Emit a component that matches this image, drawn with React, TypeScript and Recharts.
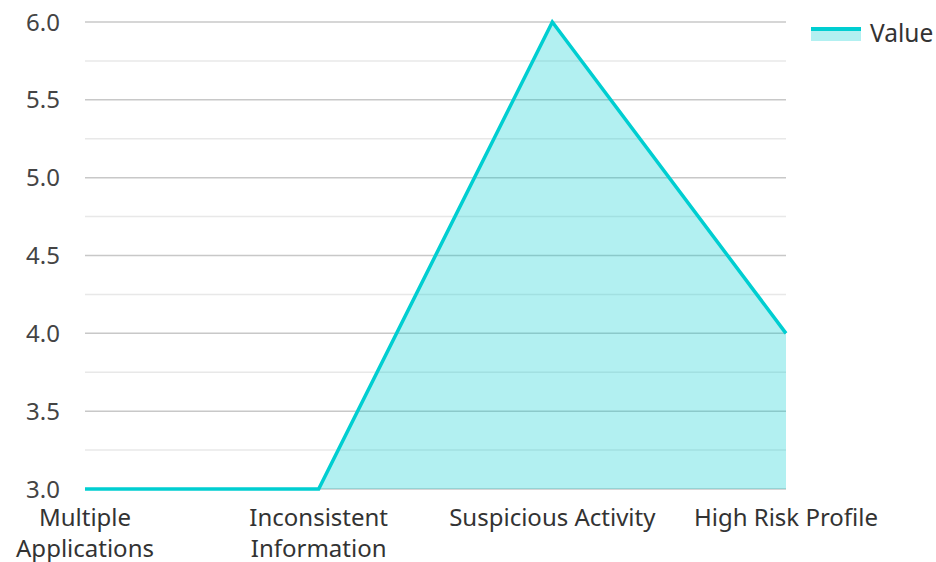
import React from 'react'
import { AreaChart, Area, XAxis, YAxis, CartesianGrid } from 'recharts'

const categories = ['Multiple Applications', 'Inconsistent Information', 'Suspicious Activity', 'High Risk Profile']
const values = [3, 3, 6, 4]
const yTicks = [3, 3.5, 4, 4.5, 5, 5.5, 6]
const yMinorTicks = [3.25, 3.75, 4.25, 4.75, 5.25, 5.75]

const data = categories.map((name, i) => ({ name, value: values[i] }))

const COLOR = '#00CED1'
const FONT = '"Noto Sans", "Open Sans", sans-serif'
const FONT_SIZE = 24

// greedy word wrap on character count
function wrap(label: string, maxChars: number) {
  const lines: string[] = []
  let cur = ''
  label.split(' ').forEach((w) => {
    const next = cur ? cur + ' ' + w : w
    if (next.length > maxChars && cur) {
      lines.push(cur)
      cur = w
    } else {
      cur = next
    }
  })
  if (cur) lines.push(cur)
  return lines
}

function XTick(props: any) {
  const { x, y, payload } = props
  const lines = wrap(String(payload.value), 19)
  return (
    <text x={x} y={y} textAnchor="middle" fill="#333" fontSize={FONT_SIZE} fontFamily={FONT}>
      {lines.map((l, i) => (
        <tspan key={i} x={x} dy={i === 0 ? 37 : 31}>
          {l}
        </tspan>
      ))}
    </text>
  )
}

function LegendBox() {
  return (
    <div
      style={{
        position: 'absolute',
        left: 811,
        top: 16,
        display: 'flex',
        alignItems: 'center',
        fontFamily: FONT,
        fontSize: 24.5,
        color: '#333',
      }}
    >
      <svg width={50} height={16} style={{ marginRight: 9 }}>
        <rect x={0} y={4} width={50} height={12} fill={COLOR} fillOpacity={0.3} />
        <rect x={0} y={2} width={50} height={4} fill={COLOR} />
      </svg>
      <span>Value</span>
    </div>
  )
}

export default function App() {
  return (
    <div style={{ position: 'absolute', left: 0, top: 0, width: 936, height: 562 }}>
      <AreaChart width={936} height={562} data={data} margin={{ top: 22, right: 150, bottom: 0, left: 0 }}>
        <CartesianGrid vertical={false} horizontalValues={yMinorTicks} stroke="#e8e8e8" strokeWidth={1.5} />
        <CartesianGrid vertical={false} horizontalValues={yTicks} stroke="#c8c8c8" strokeWidth={1.5} />
        <XAxis
          dataKey="name"
          axisLine={false}
          tickLine={false}
          tickSize={0}
          tickMargin={0}
          height={73}
          interval={0}
          tick={<XTick />}
        />
        <YAxis
          domain={[3, 6]}
          ticks={yTicks}
          tickFormatter={(v: number) => v.toFixed(1)}
          axisLine={false}
          tickLine={false}
          tickSize={0}
          tickMargin={25}
          width={85}
          tick={{ fill: '#444', fontSize: FONT_SIZE, fontFamily: FONT }}
        />
        <Area
          type="linear"
          dataKey="value"
          name="Value"
          stroke={COLOR}
          strokeWidth={3.5}
          fill={COLOR}
          fillOpacity={0.3}
          dot={false}
          activeDot={false}
          isAnimationActive={false}
        />
      </AreaChart>
      <LegendBox />
    </div>
  )
}
